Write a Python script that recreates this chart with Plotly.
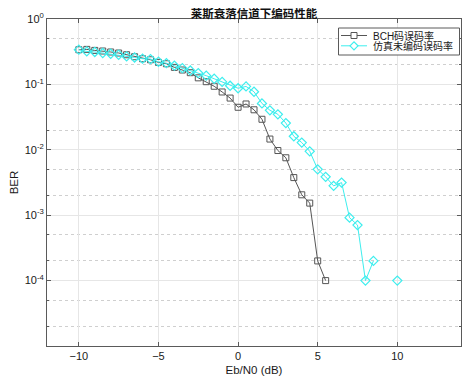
import plotly.graph_objects as go

ebn0 = [-10, -9.5, -9, -8.5, -8, -7.5, -7, -6.5, -6, -5.5, -5, -4.5, -4, -3.5, -3, -2.5,
        -2, -1.5, -1, -0.5, 0, 0.5, 1, 1.5, 2, 2.5, 3, 3.5, 4, 4.5, 5, 5.5,
        6, 6.5, 7, 7.5, 8, 8.5, 9, 9.5, 10]

ber_bch = [0.339, 0.343, 0.331, 0.324, 0.313, 0.302, 0.284, 0.265, 0.247, 0.238, 0.217,
           0.207, 0.182, 0.166, 0.151, 0.126, 0.110, 0.0937, 0.0766, 0.0618, 0.0447,
           0.0502, 0.0409, 0.0293, 0.0146, 0.00975, 0.00755, 0.00376, 0.00205, 0.00153,
           0.0002, 0.0001,
           None, None, None, None, None, None, None, None, None]

ber_uncoded = [0.339, 0.319, 0.313, 0.302, 0.294, 0.284, 0.268, 0.258, 0.247, 0.244, 0.222,
               0.211, 0.193, 0.177, 0.163, 0.149, 0.136, 0.122, 0.109, 0.0953, 0.0873,
               0.0931, 0.0772, 0.0511, 0.0402, 0.0349, 0.0256, 0.0161, 0.0129, 0.00948,
               0.00503, 0.00386, 0.00281, 0.00315, 0.000918, 0.000706, 0.0001, 0.0002,
               None, None, 0.0001]

series_names = ["BCH码误码率", "仿真未编码误码率"]
ytick_vals = [1, 0.1, 0.01, 0.001, 0.0001]
ytick_text = ["10<sup>0</sup>", "10<sup>-1</sup>", "10<sup>-2</sup>", "10<sup>-3</sup>", "10<sup>-4</sup>"]
xtick_vals = [-10, -5, 0, 5, 10]

FONT = "Liberation Sans, Arial, Noto Sans CJK SC, sans-serif"
AX = "#5a5a5a"
TXT = "#1a1a1a"
GRID = "#e6e6e6"
C_BCH = "#555555"
C_UNC = "#3deeee"

# page is offset by the 8px body margin
OFF = 8
W, H = 474 - OFF, 384 - OFF
# plot area in page pixels
X0, X1, Y0, Y1 = 47, 461, 19, 346
L, R, T, B = X0 - OFF, 474 - X1, Y0 - OFF, 384 - Y1
PW, PH = X1 - X0, Y1 - Y0


def px(xp):
    return (xp - X0) / PW


def py(yp):
    return (Y1 - yp) / PH


fig = go.Figure()
fig.add_trace(go.Scatter(
    x=ebn0, y=ber_bch, name=series_names[0], mode="lines+markers",
    line=dict(color=C_BCH, width=1),
    marker=dict(symbol="square-open", size=6, color=C_BCH, line=dict(width=1)),
    connectgaps=False, showlegend=False))
fig.add_trace(go.Scatter(
    x=ebn0, y=ber_uncoded, name=series_names[1], mode="lines+markers",
    line=dict(color=C_UNC, width=1),
    marker=dict(symbol="diamond-open", size=7, color=C_UNC, line=dict(width=1.2)),
    connectgaps=False, showlegend=False))

# manual MATLAB-style legend (compact)
shapes = [dict(type="rect", xref="paper", yref="paper",
               x0=px(338.5), x1=px(459.5), y0=py(55), y1=py(28),
               line=dict(color=AX, width=1), fillcolor="white", layer="above")]
annotations = []
rows = [(35.5, C_BCH, "square"), (45.8, C_UNC, "diamond")]
for (yr, col, sym), name in zip(rows, series_names):
    shapes.append(dict(type="line", xref="paper", yref="paper",
                       x0=px(341), x1=px(367), y0=py(yr), y1=py(yr),
                       line=dict(color=col, width=1), layer="above"))
    cx = 354
    if sym == "square":
        shapes.append(dict(type="rect", xref="paper", yref="paper",
                           x0=px(cx - 3), x1=px(cx + 3), y0=py(yr + 3), y1=py(yr - 3),
                           line=dict(color=col, width=1), fillcolor="white", layer="above"))
    else:
        d = 4
        path = (f"M {px(cx - d)} {py(yr)} L {px(cx)} {py(yr - d)} "
                f"L {px(cx + d)} {py(yr)} L {px(cx)} {py(yr + d)} Z")
        shapes.append(dict(type="path", xref="paper", yref="paper", path=path,
                           line=dict(color=col, width=1.2), fillcolor="white", layer="above"))
    annotations.append(dict(text=name, xref="paper", yref="paper", x=px(371), y=py(yr),
                            xanchor="left", yanchor="middle", showarrow=False,
                            font=dict(size=10, color=TXT, family=FONT)))

fig.update_layout(
    width=W, height=H,
    margin=dict(l=L, r=R, t=T, b=B),
    paper_bgcolor="white", plot_bgcolor="white",
    font=dict(family=FONT, size=11, color=TXT),
    title=dict(text="<b>莱斯衰落信道下编码性能</b>", x=((X0 + X1) / 2 - OFF) / W, xanchor="center",
               y=1 - 6 / H, yanchor="middle", pad=dict(t=0, b=0),
               font=dict(size=11.5, color="#111111")),
    showlegend=False,
    shapes=shapes,
    annotations=annotations,
)
fig.update_xaxes(
    range=[-12, 14], tickvals=xtick_vals, ticks="inside", ticklen=4, tickcolor=AX,
    showline=True, linecolor=AX, linewidth=1, mirror="ticks",
    showgrid=True, gridcolor=GRID, gridwidth=1, zeroline=False, automargin=False,
    tickfont=dict(size=11, color=TXT),
    title=dict(text="Eb/N0 (dB)", font=dict(size=11.5, color=TXT), standoff=4),
)
fig.update_yaxes(
    type="log", range=[-5, 0], tickvals=ytick_vals, ticktext=ytick_text,
    ticks="inside", ticklen=4, tickcolor=AX,
    showline=True, linecolor=AX, linewidth=1, mirror="ticks",
    showgrid=True, gridcolor=GRID, gridwidth=1, zeroline=False, automargin=False,
    minor=dict(showgrid=True, gridcolor="#cfcfcf", griddash="dot", ticks="inside",
               ticklen=2, tickcolor=AX),
    tickfont=dict(size=11, color=TXT),
    title=dict(text="BER", font=dict(size=11.5, color=TXT), standoff=8),
)

fig.write_html("out.html")
